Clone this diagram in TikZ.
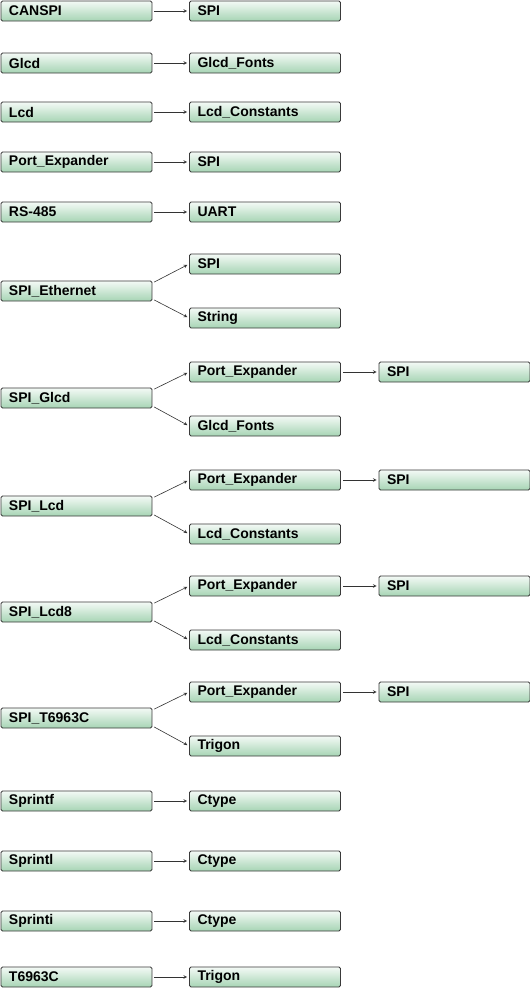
\documentclass[tikz,border=0pt]{standalone}
\usepackage{fontspec}
\setmainfont{Liberation Sans}
\usetikzlibrary{positioning,arrows}

\definecolor{boxtop}{HTML}{F4FAF6}
\definecolor{boxbottom}{HTML}{A6D4B4}
\definecolor{boxline}{HTML}{3A3A3A}
\definecolor{arrowline}{HTML}{333333}

\begin{document}
\begin{tikzpicture}
    [%%%%%%%%%%%%%%%%%%%%%%%%%%%%%%
    x=1pt,y=-1pt,
    lib/.style={rectangle,rounded corners=1.5pt,draw=boxline,line width=0.8pt,
        top color=boxtop,bottom color=boxbottom,
        minimum width=151pt,minimum height=20pt,text width=135pt,
        inner xsep=8pt,inner ysep=0pt,align=left,
        font=\fontsize{14}{16}\selectfont\bfseries},
    uses/.style={-stealth,draw=arrowline,line width=0.6pt,shorten >=2pt,shorten <=2pt},
    ]%%%%%%%%%%%%%%%%%%%%%%%%%%%%%%

    \useasboundingbox (0,0) rectangle (530,989);

    % CANSPI
    \node[lib] at (76.5,11) (canspi) {CANSPI};
    \node[lib] at (265,11) (canspi_spi) {SPI};
    \draw[uses] (canspi) -- (canspi_spi);

    % Glcd
    \node[lib] at (76.5,63) (glcd) {Glcd};
    \node[lib] at (265,63) (glcd_fonts) {Glcd\_Fonts};
    \draw[uses] (glcd) -- (glcd_fonts);

    % Lcd
    \node[lib] at (76.5,112) (lcd) {Lcd};
    \node[lib] at (265,112) (lcd_const) {Lcd\_Constants};
    \draw[uses] (lcd) -- (lcd_const);

    % Port_Expander
    \node[lib] at (76.5,162) (portexp) {Port\_Expander};
    \node[lib] at (265,162) (portexp_spi) {SPI};
    \draw[uses] (portexp) -- (portexp_spi);

    % RS-485
    \node[lib] at (76.5,212) (rs485) {RS-485};
    \node[lib] at (265,212) (rs485_uart) {UART};
    \draw[uses] (rs485) -- (rs485_uart);

    % SPI_Ethernet
    \node[lib] at (76.5,291) (spieth) {SPI\_Ethernet};
    \node[lib] at (265,264) (spieth_spi) {SPI};
    \node[lib] at (265,318) (spieth_string) {String};
    \draw[uses] ([yshift=8pt]spieth.east) -- (spieth_spi.west);
    \draw[uses] ([yshift=-8pt]spieth.east) -- (spieth_string.west);

    % SPI_Glcd
    \node[lib] at (76.5,398) (spiglcd) {SPI\_Glcd};
    \node[lib] at (265,372) (spiglcd_pe) {Port\_Expander};
    \node[lib] at (454.5,372) (spiglcd_spi) {SPI};
    \node[lib] at (265,426) (spiglcd_fonts) {Glcd\_Fonts};
    \draw[uses] ([yshift=8pt]spiglcd.east) -- (spiglcd_pe.west);
    \draw[uses] ([yshift=-8pt]spiglcd.east) -- (spiglcd_fonts.west);
    \draw[uses] (spiglcd_pe) -- (spiglcd_spi);

    % SPI_Lcd
    \node[lib] at (76.5,506) (spilcd) {SPI\_Lcd};
    \node[lib] at (265,480) (spilcd_pe) {Port\_Expander};
    \node[lib] at (454.5,480) (spilcd_spi) {SPI};
    \node[lib] at (265,534) (spilcd_const) {Lcd\_Constants};
    \draw[uses] ([yshift=8pt]spilcd.east) -- (spilcd_pe.west);
    \draw[uses] ([yshift=-8pt]spilcd.east) -- (spilcd_const.west);
    \draw[uses] (spilcd_pe) -- (spilcd_spi);

    % SPI_Lcd8
    \node[lib] at (76.5,612) (spilcd8) {SPI\_Lcd8};
    \node[lib] at (265,586) (spilcd8_pe) {Port\_Expander};
    \node[lib] at (454.5,586) (spilcd8_spi) {SPI};
    \node[lib] at (265,640) (spilcd8_const) {Lcd\_Constants};
    \draw[uses] ([yshift=8pt]spilcd8.east) -- (spilcd8_pe.west);
    \draw[uses] ([yshift=-8pt]spilcd8.east) -- (spilcd8_const.west);
    \draw[uses] (spilcd8_pe) -- (spilcd8_spi);

    % SPI_T6963C
    \node[lib] at (76.5,718) (spit6963c) {SPI\_T6963C};
    \node[lib] at (265,692) (spit6963c_pe) {Port\_Expander};
    \node[lib] at (454.5,692) (spit6963c_spi) {SPI};
    \node[lib] at (265,746) (spit6963c_trigon) {Trigon};
    \draw[uses] ([yshift=8pt]spit6963c.east) -- (spit6963c_pe.west);
    \draw[uses] ([yshift=-8pt]spit6963c.east) -- (spit6963c_trigon.west);
    \draw[uses] (spit6963c_pe) -- (spit6963c_spi);

    % Sprintf / Sprintl / Sprinti
    \node[lib] at (76.5,801) (sprintf) {Sprintf};
    \node[lib] at (265,801) (sprintf_ctype) {Ctype};
    \draw[uses] (sprintf) -- (sprintf_ctype);

    \node[lib] at (76.5,861) (sprintl) {Sprintl};
    \node[lib] at (265,861) (sprintl_ctype) {Ctype};
    \draw[uses] (sprintl) -- (sprintl_ctype);

    \node[lib] at (76.5,921) (sprinti) {Sprinti};
    \node[lib] at (265,921) (sprinti_ctype) {Ctype};
    \draw[uses] (sprinti) -- (sprinti_ctype);

    % T6963C
    \node[lib] at (76.5,977) (t6963c) {T6963C};
    \node[lib] at (265,977) (t6963c_trigon) {Trigon};
    \draw[uses] (t6963c) -- (t6963c_trigon);
\end{tikzpicture}
\end{document}
